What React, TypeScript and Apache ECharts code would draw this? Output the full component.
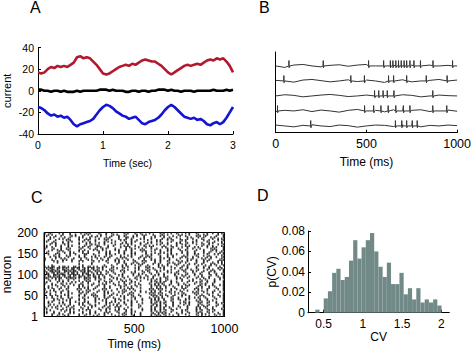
import React, { useEffect, useRef } from 'react';
import * as echarts from 'echarts';

const FONT = 'Liberation Sans, Arial, Helvetica, sans-serif';

// ---------- Panel A: input currents ----------
const stepA = 0.05;
const redCurrent = [17, 16, 17, 20, 22, 21, 23, 22, 23, 22, 24, 26, 31, 32, 30, 31, 30, 27, 24, 20, 16, 15, 16, 18, 20, 22, 23, 24, 23, 25, 24, 26, 28, 29, 28, 27, 27, 25, 23, 20, 17, 15, 17, 19, 21, 23, 24, 23, 24, 25, 24, 26, 28, 29, 28, 30, 29, 30, 27, 23, 17];
const blackCurrent = [1, 1, 0, 0, -1, 0, 0, -1, 0, -1, -1, -1, 0, -1, 0, 0, 0, 0, 0, 1, 1, 1, 0, 1, 0, 0, 0, -1, -1, 0, 0, -1, 0, 0, -1, 0, 0, 1, 1, 1, 0, 1, 0, 0, -1, 0, 0, 0, -1, 0, 0, 0, 0, 0, 1, 0, 0, 0, 1, 0, 1];
const blueCurrent = [-15, -16, -18, -21, -23, -22, -24, -23, -25, -24, -27, -31, -33, -31, -30, -29, -28, -26, -22, -18, -15, -13, -14, -16, -19, -21, -23, -24, -26, -25, -24, -27, -30, -31, -29, -28, -27, -25, -22, -18, -15, -13, -15, -18, -21, -24, -25, -26, -25, -27, -26, -28, -31, -32, -30, -29, -31, -29, -25, -20, -15];

// ---------- Panel B: voltage traces (spike times, ms) ----------
const traceBases = [4.45, 3.45, 2.45, 1.45, 0.45];
const spikeTimes = [
  [73, 262, 512, 595, 632, 646, 662, 677, 692, 708, 722, 740, 762, 798, 867, 975],
  [45, 414, 489, 622, 650, 722, 830, 945],
  [545, 568, 592, 615, 652, 866],
  [10, 490, 540, 580, 620, 662, 704, 740, 866, 943],
  [193, 660, 695, 722, 753, 780],
];
const traceWiggle = [
  [0, -0.1, 0.06, 0.1, 0, -0.06, 0.04, 0.08, -0.02, 0.06, 0.1, 0, -0.08, 0.04, 0, 0.06, -0.04, 0.06, 0, 0.04, 0],
  [0.04, 0, -0.08, 0.06, 0.1, 0.02, -0.06, 0, 0.08, -0.04, 0.06, 0, -0.1, 0.04, 0.08, -0.06, 0, 0.04, 0.1, 0, 0.06],
  [0, 0.08, 0.04, -0.06, 0, 0.06, 0.1, 0.04, -0.04, 0, 0.06, -0.08, 0.04, 0, 0.08, 0.04, -0.06, 0, 0.06, 0.02, 0],
  [-0.06, 0.04, 0, 0.08, -0.04, 0.06, 0, -0.08, 0.04, 0.1, 0, 0.04, -0.06, 0.08, 0, 0.04, 0.08, -0.04, 0, 0.06, -0.02],
  [0.06, 0, -0.06, 0.04, 0.08, 0, -0.04, 0.06, 0.02, -0.08, 0, 0.06, 0.04, -0.04, 0.08, 0, -0.06, 0.04, 0, 0.06, 0.02],
];
const spikeHeight = 0.36;

// ---------- Panel C: raster; each row (top = neuron 200) lists the gaps between spikes in 10 ms cells (base-36 digits) ----------
const rasterGaps = [
  "1352463254372435624352463 32",
  "32643527342563245362453 263",
  "25362453264352463254362 364",
  "426352436254136425346243 425",
  "45236425326435246325435 632",
  "3462532463524365243526 4353",
  "245326435246325432653426 44",
  "52436425346235426352435 425",
  "4352643256342536245326 4353",
  "253427341536245326435273 35",
  "23546235247325436245342 5324",
  "1543265342563245362453 4625",
  "53246352372435263425364 524",
  "3624523642534623542634 5433",
  "2643253642534265324634 5362",
  "342635147235426345236425 423",
  "63425362435426325436254 37",
  "43256342536245326435243 5234",
  "163254362453273452364352 36",
  "14623542634253642354623 4362",
  "6235426345236425346235 4262",
  "8j9635246352436453 2",
  "k7e53426354263452 4",
  "5hc462534623542643 34",
  "122132123122312232453642534635436",
  "221312231213221325346253426345 4352",
  "32123122132123234253642354623 45342",
  "1312231221322132435264352463524 425",
  "23121322123122324364253462354 54352",
  "21322132123213223546325436254354 3",
  "123122132122312324526345236425 4534",
  "3122132123122312346352436254352 453",
  "113221321223123235246325436245 4362",
  "342536243542546 232 4536435 3",
  "452364253462356 233 364253 45",
  "263524364253429 322 436524 45",
  "145326435246356 322 543642 46",
  "524632543624536 223 354263 442",
  "354262354362438 323 453624 35",
  "325463245364256 323 542634 44",
  "153462435264329 232 534625 63",
  "425364253462536 233 354623 45",
  "253462354263453 323 5346245 4",
  "136425346235429 232 543625 36",
  "435263425436247 233 542634 53",
  "532463524362547 233 354625 42",
  "235426345236428 322 546324 55",
  "623453624523645 223 534264 54",
  "634253642534265 223 453624 36",
  "326435246325438 323 463524 44",
  "362452364253465 232 543264 53",
  "426352436425348 223 463524 53",
  "352436425342656 323 435632 54",
  "142635426342567 232 364523 46",
  "263425364253465 232 436524 35",
  "463254263524365 233 452634 35",
  "246325436245329 322 463524 36",
  "243625435263457 322 634524 53",
  "542364253462356 223 354632 532",
  "534263524623546 323 436524 44",
];
const rasterCellMs = 10;
const rasterDuration = 1000;
const neuronCount = 200;

// ---------- Panel D: CV histogram ----------
const cvBinStart = 0.393;
const cvBinWidth = 0.0536;
const cvDensity = [0.003, 0, 0.014, 0.021, 0.039, 0.043, 0.032, 0.035, 0.051, 0.071, 0.053, 0.064, 0.071, 0.078, 0.060, 0.045, 0.035, 0.049, 0.028, 0.028, 0.039, 0.018, 0.024, 0.013, 0.024, 0.010, 0.013, 0.010, 0.013, 0.007];

function buildTrace(k: number) {
  const base = traceBases[k];
  const pts: [number, number][] = [];
  traceWiggle[k].forEach((w, i) => pts.push([i * 50, base + w]));
  spikeTimes[k].forEach((t) => {
    pts.push([t - 0.5, base]);
    pts.push([t, base + spikeHeight]);
    pts.push([t + 1, base - 0.12]);
    pts.push([t + 5, base]);
  });
  pts.sort((a, b) => a[0] - b[0]);
  return pts;
}

function buildRaster() {
  const pts: [number, number][] = [];
  const rowStep = neuronCount / rasterGaps.length;
  rasterGaps.forEach((row, r) => {
    const neuron = neuronCount - (r + 0.5) * rowStep;
    let cell = 0;
    for (const ch of row.replace(/ /g, '')) {
      cell += parseInt(ch, 36);
      const t = cell * rasterCellMs - rasterCellMs / 2;
      if (t < rasterDuration) pts.push([t, neuron]);
    }
  });
  return pts;
}

const axisCommon = {
  axisLine: { onZero: false, lineStyle: { color: '#000', width: 1 } },
  axisTick: { inside: true, length: 3, lineStyle: { color: '#000' } },
  splitLine: { show: false },
};

export default function App() {
  const ref = useRef<HTMLDivElement>(null);
  useEffect(() => {
    if (!ref.current) return;
    const chart = echarts.init(ref.current, null, { renderer: 'svg' });
    const tA = redCurrent.map((_, i) => i * stepA);
    const lab = (size: number, margin: number) => ({ color: '#000', fontSize: size, fontFamily: FONT, margin });
    const nameStyle = (size: number) => ({ color: '#000', fontSize: size, fontFamily: FONT });
    const histData = cvDensity.map((v, i) => [cvBinStart + i * cvBinWidth, cvBinStart + (i + 1) * cvBinWidth, v]);

    chart.setOption({
      animation: false,
      backgroundColor: '#fff',
      grid: [
        { left: 37.7, top: 47.5, width: 195.3, height: 86.5 },
        { left: 275.7, top: 52, width: 186, height: 80.7 },
        { left: 43.5, top: 232.5, width: 181, height: 84, show: true, borderColor: '#000', borderWidth: 1 },
        { left: 308, top: 231, width: 141.3, height: 81.7 },
      ],
      xAxis: [
        { ...axisCommon, gridIndex: 0, type: 'value', min: 0, max: 3, interval: 1, axisLabel: lab(10.5, 5), name: 'Time (sec)', nameLocation: 'middle', nameGap: 23, nameTextStyle: { ...nameStyle(10.5), padding: [0, 16, 0, 0] } },
        { ...axisCommon, gridIndex: 1, type: 'value', min: 0, max: 1000, interval: 500, axisLabel: { ...lab(12.5, 5), formatter: (v: number) => String(v) }, name: 'Time (ms)', nameLocation: 'middle', nameGap: 23, nameTextStyle: nameStyle(12) },
        { ...axisCommon, gridIndex: 2, type: 'value', min: 0, max: 1000, interval: 500, axisLabel: { ...lab(12.5, 6), formatter: (v: number) => (v === 0 ? '' : String(v)) }, name: 'Time (ms)', nameLocation: 'middle', nameGap: 21, nameTextStyle: nameStyle(12) },
        { ...axisCommon, gridIndex: 3, type: 'value', min: 0.3, max: 2.1, axisLabel: { ...lab(12, 5), customValues: [0.5, 1, 1.5, 2] }, axisTick: { inside: true, length: 3, lineStyle: { color: '#000' }, customValues: [0.5, 1, 1.5, 2] }, name: 'CV', nameLocation: 'middle', nameGap: 18, nameTextStyle: nameStyle(12) },
      ],
      yAxis: [
        { ...axisCommon, gridIndex: 0, type: 'value', min: -40, max: 40, interval: 20, axisLabel: lab(10.5, 4), name: 'current', nameLocation: 'middle', nameGap: 26, nameTextStyle: nameStyle(11) },
        { ...axisCommon, gridIndex: 1, type: 'value', min: 0, max: 5.38, axisTick: { show: false }, axisLabel: { show: false } },
        { ...axisCommon, gridIndex: 2, type: 'value', min: 0, max: 200, interval: 50, axisLabel: { ...lab(12.5, 6), formatter: (v: number) => (v === 0 ? '1' : String(v)) }, name: 'neuron', nameLocation: 'middle', nameGap: 31, nameTextStyle: nameStyle(12) },
        { ...axisCommon, gridIndex: 3, type: 'value', min: 0, max: 0.08, interval: 0.02, axisLabel: { ...lab(12, 3), formatter: (v: number) => (v === 0 ? '0' : v.toFixed(2)) }, name: 'p(CV)', nameLocation: 'middle', nameGap: 27, nameTextStyle: nameStyle(12) },
      ],
      series: [
        { type: 'line', xAxisIndex: 0, yAxisIndex: 0, showSymbol: false, data: tA.map((t, i) => [t, redCurrent[i]]), lineStyle: { color: '#b3192e', width: 2.6 }, itemStyle: { color: '#b3192e' } },
        { type: 'line', xAxisIndex: 0, yAxisIndex: 0, showSymbol: false, data: tA.map((t, i) => [t, blackCurrent[i]]), lineStyle: { color: '#000', width: 2.6 }, itemStyle: { color: '#000' } },
        { type: 'line', xAxisIndex: 0, yAxisIndex: 0, showSymbol: false, data: tA.map((t, i) => [t, blueCurrent[i]]), lineStyle: { color: '#1414d4', width: 2.6 }, itemStyle: { color: '#1414d4' } },
        ...traceBases.map((_, k) => ({ type: 'line', xAxisIndex: 1, yAxisIndex: 1, showSymbol: false, data: buildTrace(k), lineStyle: { color: '#333', width: 1 }, itemStyle: { color: '#333' } })),
        { type: 'scatter', xAxisIndex: 2, yAxisIndex: 2, data: buildRaster(), symbol: 'rect', symbolSize: [1.6, 2.4], itemStyle: { color: '#111' } },
        {
          type: 'custom', xAxisIndex: 3, yAxisIndex: 3, data: histData, encode: { x: [0, 1], y: 2 },
          renderItem: (params: any, api: any) => {
            const p0 = api.coord([api.value(0), api.value(2)]);
            const p1 = api.coord([api.value(1), 0]);
            return { type: 'rect', shape: { x: p0[0], y: p0[1], width: p1[0] - p0[0], height: p1[1] - p0[1] }, style: { fill: '#718a88' } };
          },
        },
      ],
      graphic: [
        { type: 'text', x: 30, y: 7.5, style: { text: 'A', fontSize: 16, fontFamily: FONT, fill: '#000', verticalAlign: 'middle' } },
        { type: 'text', x: 259, y: 7.5, style: { text: 'B', fontSize: 16, fontFamily: FONT, fill: '#000', verticalAlign: 'middle' } },
        { type: 'text', x: 31, y: 197, style: { text: 'C', fontSize: 16, fontFamily: FONT, fill: '#000', verticalAlign: 'middle' } },
        { type: 'text', x: 257, y: 195.5, style: { text: 'D', fontSize: 16, fontFamily: FONT, fill: '#000', verticalAlign: 'middle' } },
      ],
    });
    return () => chart.dispose();
  }, []);
  return <div ref={ref} style={{ position: 'absolute', left: 0, top: 0, width: 474, height: 351 }} />;
}
